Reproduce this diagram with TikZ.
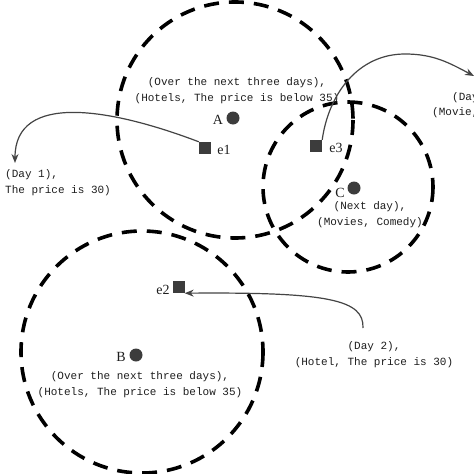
\documentclass[tikz,border=0pt]{standalone}
\usepackage{fontspec}
\setmainfont{Liberation Serif}
\newfontfamily\monofam{Liberation Mono}
\usetikzlibrary{arrows.meta,calc}
\definecolor{ink}{HTML}{1E1E1E}
\definecolor{mark}{HTML}{3C3C3C}
\definecolor{wire}{HTML}{444444}
\tikzset{
  circ/.style={line width=3.6pt, dash pattern=on 15pt off 10pt, black},
  dotmark/.style={circle, fill=mark, inner sep=0pt, minimum size=13pt},
  sqmark/.style={rectangle, fill=mark, inner sep=0pt, minimum size=12pt},
  lbl/.style={font=\fontsize{14}{16}\selectfont, text=ink, inner sep=0pt},
  info/.style={font=\monofam\fontsize{11}{16}\selectfont, text=ink, inner sep=0pt, align=center},
  link/.style={wire, line width=1.2pt, -{Stealth[length=9pt,width=7pt]}}
}
\begin{document}
\begin{tikzpicture}[x=1pt,y=-1pt]
\clip (0,0) rectangle (474,474);
\fill[white] (0,0) rectangle (474,474);
% circles
\draw[circ] (235,120) circle[radius=118];
\draw[circ] (348,187) circle[radius=85];
\draw[circ] (142,352) circle[radius=121];
% circle A
\node[info] (atext) at (237,91) {(Over the next three days),\\(Hotels, The price is below 35)};
\node[dotmark] (A) at (233,118) {};
\node[lbl] (Alab) at (218,120) {A};
\node[sqmark] (e1) at (205,148) {};
\node[lbl] (e1lab) at (224,150) {e1};
\node[sqmark] (e3) at (316,146) {};
\node[lbl] (e3lab) at (336,148) {e3};
% circle C
\node[dotmark] (C) at (354,188) {};
\node[lbl] (Clab) at (340,193) {C};
\node[info] (ctext) at (370,215) {(Next day),\\(Movies, Comedy)};
% circle B
\node[sqmark] (e2) at (178.5,287) {};
\node[lbl] (e2lab) at (163,290) {e2};
\node[dotmark] (B) at (136,355) {};
\node[lbl] (Blab) at (121,357) {B};
\node[info] (btext) at (140,385) {(Over the next three days),\\(Hotels, The price is below 35)};
% outside texts
\node[info, align=left, anchor=west] (day1) at (5,183) {(Day 1),\\The price is 30)};
\node[info] (day2) at (374,355) {(Day 2),\\(Hotel, The price is 30)};
\node[info, anchor=west] (day3a) at (452,98) {(Day 3),};
\node[info, anchor=west] (day3b) at (432,113) {(Movie, Comedy)};
% connectors
\coordinate (t1) at (15,163);
\coordinate (t3) at (474,76);
\coordinate (p3) at (405,54);
\coordinate (s2) at (363,328);
\draw[link] (e1.north west) .. controls (110,108) and (15,92) .. (t1);
\draw[link] (e3.north east) to[out=82,in=180] (p3) to[out=0,in=152] (t3);
\draw[link] (s2) .. controls (364,300) and (330,292) .. (e2.south east);
\end{tikzpicture}
\end{document}
